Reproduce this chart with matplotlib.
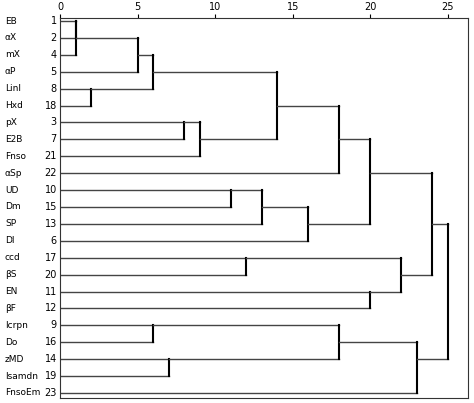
import matplotlib.pyplot as plt

names = ['EB', 'αX', 'mX', 'αP', 'Linl', 'Hxd', 'pX', 'E2B', 'Fnso', 'αSp', 'UD', 'Dm',
         'SP', 'Dl', 'ccd', 'βS', 'EN', 'βF', 'lcrpn', 'Do', 'zMD', 'lsamdn', 'FnsoEm']
case_ids = [1, 2, 4, 5, 8, 18, 3, 7, 21, 22, 10, 15, 13, 6, 17, 20, 11, 12, 9, 16, 14, 19, 23]

# merges: (child a, child b, distance); children are leaf indices or 'n<k>' for earlier merges
merges = [
    (0, 1, 1.0), ('n0', 2, 1.0), ('n1', 3, 5.0), (4, 5, 2.0), ('n2', 'n3', 6.0),
    (6, 7, 8.0), ('n5', 8, 9.0), ('n4', 'n6', 14.0), ('n7', 9, 18.0),
    (10, 11, 11.0), ('n9', 12, 13.0), ('n10', 13, 16.0), ('n8', 'n11', 20.0),
    (14, 15, 12.0), (16, 17, 20.0), ('n13', 'n14', 22.0), ('n12', 'n15', 24.0),
    (18, 19, 6.0), (20, 21, 7.0), ('n17', 'n18', 18.0), ('n19', 22, 23.0),
    ('n16', 'n20', 25.0),
]

fig = plt.figure(figsize=(4.74, 4.03), dpi=100)
ax = fig.add_axes([60 / 474, 5 / 403, 408 / 474, 380 / 403])

nodes = []  # (row, height)
def get(c):
    if isinstance(c, str):
        return nodes[int(c[1:])]
    return (c, 0.0)

for a, b, d in merges:
    (ya, ha), (yb, hb) = get(a), get(b)
    ax.plot([ha, d], [ya, ya], color='#444444', lw=1.0)
    ax.plot([hb, d], [yb, yb], color='#444444', lw=1.0)
    ax.plot([d, d], [ya, yb], color='black', lw=1.5)
    nodes.append((int((ya + yb) // 2), d))

ax.set_xlim(0, 26.3)
ax.set_ylim(22.3, -0.18)
ax.xaxis.tick_top()
ax.set_xticks(range(0, 26, 5))
ax.tick_params(axis='x', labelsize=7, length=3, pad=1)
ax.set_yticks([])
for s in ax.spines.values():
    s.set_linewidth(0.8)
    s.set_color('#333333')

for i, (n, c) in enumerate(zip(names, case_ids)):
    ax.text(-55 / 15.5, i, n, fontsize=6.5, ha='left', va='center', clip_on=False)
    ax.text(-0.2, i, str(c), fontsize=7, ha='right', va='center', clip_on=False)

fig.savefig('out.png', dpi=100)
